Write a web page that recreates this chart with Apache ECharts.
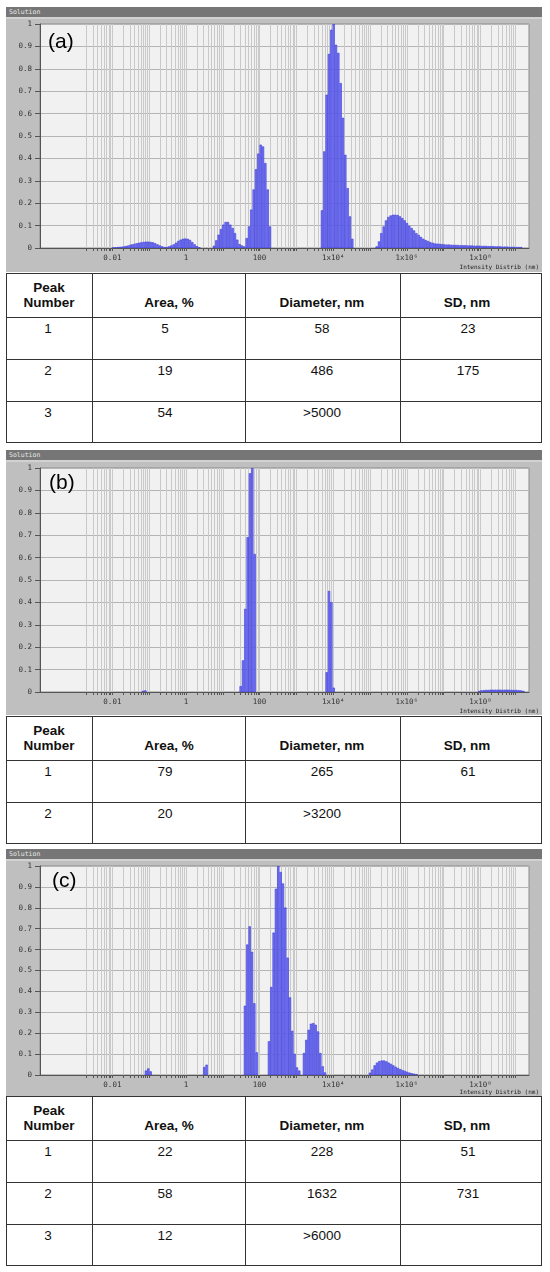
<!DOCTYPE html>
<html>
<head>
<meta charset="utf-8">
<title>Intensity distributions</title>
<script src="https://cdn.jsdelivr.net/npm/echarts@6.0.0/dist/echarts.min.js"></script>
<style>
html,body{margin:0;padding:0;background:#fff;width:550px;height:1272px;overflow:hidden;}
#wrap{position:relative;width:550px;height:1272px;}
.body{position:absolute;left:6px;width:536px;background:#bfbfbf;box-sizing:border-box;border-top:2px solid #d2d2d2;}
.tbar{position:absolute;left:6px;width:536px;height:10px;background:#767676;color:#e6e6e6;font-family:'DejaVu Sans Mono',monospace;font-size:6.5px;line-height:10px;padding-left:3px;box-sizing:border-box;}
.ln{position:absolute;background:#333;}
.tx{position:absolute;width:150px;text-align:center;font-family:'Liberation Sans',Arial,sans-serif;font-size:13.5px;line-height:15px;color:#111;white-space:nowrap;}
.tx.h{font-weight:bold;}
#chart{position:absolute;left:0;top:0;width:550px;height:1272px;}
</style>
</head>
<body>
<div id="wrap"></div>
<script>
// ---------- axis / tick data ----------
const X_MIN = 1.08e-4, X_MAX = 2.09e9;          // diameter range of the log axis (nm)
const BIN_STEP = 0.0633;                          // log10 width of one size bin
const X_LABEL_VALUES = [0.01, 1, 100, 1e4, 1e6, 1e8];
const X_LABEL_TEXT = ['0.01', '1', '100', '1x10\u2074', '1x10\u2076', '1x10\u2078'];
const GRID_DECADES = [-3, -2, -1, 0, 1, 2, 3, 4, 5, 6, 7, 8];
const GRID_MULTS = [1, 2, 3, 4, 5, 6, 7, 8, 9];
const GRID_FIRST = 2e-3, GRID_LAST = 9e8;
const Y_MAX = 1, Y_STEP = 0.1;

// ---------- panel (a): first-bin diameters and bin intensities ----------
const aStart = [0.01058, 0.2988, 5.767, 44.6, 4962, 1.521e5];
const aPeak1 = [0.002,0.002,0.003,0.004,0.005,0.007,0.009,0.012,0.015,0.017,0.020,0.022,0.024,0.026,0.027,0.027,0.026,0.024,0.020,0.015,0.010,0.006,0.003];
const aPeak2 = [0.003,0.006,0.010,0.015,0.022,0.030,0.036,0.040,0.041,0.040,0.035,0.025,0.015,0.007,0.002];
const aPeak3 = [0.009,0.033,0.058,0.083,0.103,0.115,0.115,0.103,0.088,0.065,0.036,0.016,0.010,0.006];
const aPeak4 = [0.043,0.095,0.170,0.260,0.350,0.420,0.460,0.452,0.378,0.260,0.095];
const aPeak5 = [0.167,0.430,0.683,0.865,0.973,1.000,0.906,0.870,0.735,0.580,0.415,0.266,0.140,0.040];
const aPeak6 = [0.006,0.028,0.065,0.095,0.122,0.137,0.144,0.147,0.147,0.146,0.140,0.132,0.122,0.110,0.098,0.088,0.077,0.065,0.057,0.048,0.040,0.034,0.030,0.025,0.022,0.019,0.018,
                0.017,0.016,0.015,0.014,0.014,0.013,0.013,0.012,0.012,0.011,0.011,0.011,0.010,0.010,0.010,0.009,0.009,0.009,0.008,0.008,0.008,0.007,0.007,0.007,0.006,0.006,0.006,0.005,0.005,0.005,0.004,0.004,0.004,0.003,0.003,0.003];

// ---------- panel (b) ----------
const bStart = [0.0678, 30.6, 6660, 9.16e7];
const bPeak1 = [0.004, 0.006];
const bPeak2 = [0.025,0.140,0.370,0.690,0.975,1.000,0.615];
const bPeak3 = [0.087,0.450,0.400,0.018];
const bPeak4 = [0.003,0.006,0.007,0.008,0.008,0.009,0.009,0.009,0.009,0.009,0.009,0.009,0.009,0.009,0.008,0.008,0.008,0.007,0.006,0.004];

// ---------- panel (c) ----------
const cStart = [0.0818, 3.14, 40.1, 180, 1609, 1.0e5];
const cPeak1 = [0.020,0.030,0.016];
const cPeak2 = [0.037,0.048];
const cPeak3 = [0.330,0.623,0.710,0.588,0.342,0.107];
const cPeak4 = [0.160,0.420,0.680,0.890,1.000,0.970,0.915,0.800,0.560,0.370,0.210,0.100,0.035,0.020];
const cPeak5 = [0.104,0.167,0.215,0.244,0.247,0.239,0.207,0.104,0.040,0.011];
const cPeak6 = [0.010,0.025,0.045,0.058,0.065,0.068,0.068,0.064,0.058,0.052,0.045,0.038,0.032,0.027,0.022,0.018,0.014,0.010,0.007,0.005,0.003];

// ---------- tables ----------
const PANEL_TAGS = ['(a)', '(b)', '(c)'];
const TABLE_HEAD = [['Peak', 'Number'], ['Area, %'], ['Diameter, nm'], ['SD, nm']];
const tableA = [['1','5','58','23'], ['2','19','486','175'], ['3','54','>5000','']];
const tableB = [['1','79','265','61'], ['2','20','>3200','']];
const tableC = [['1','22','228','51'], ['2','58','1632','731'], ['3','12','>6000','']];

// ---------- layout ----------
const PANELS = [
  {tbar: 7,   bodyTop: 17,  bodyBottom: 272,  gridTop: 24,  gridH: 224, tagX: 48, tagY: 42,  nameY: 267,  rows: [273, 317, 359, 401, 442]},
  {tbar: 450, bodyTop: 460, bodyBottom: 715,  gridTop: 468, gridH: 224, tagX: 49, tagY: 483, nameY: 711,  rows: [716, 760, 802, 843]},
  {tbar: 849, bodyTop: 859, bodyBottom: 1096, gridTop: 866, gridH: 209, tagX: 52, tagY: 881, nameY: 1092, rows: [1096, 1140, 1182, 1224, 1265]}
];
const COL_LINES = [92, 245, 400];
const HEAD_CX = [49, 169, 322, 467];
const CELL_CX = [48, 165, 322, 468];

const wrap = document.getElementById('wrap');
function box(cls, l, t, w, h, txt) {
  const d = document.createElement('div');
  d.className = cls;
  d.style.left = l + 'px'; d.style.top = t + 'px';
  if (w != null) d.style.width = w + 'px';
  if (h != null) d.style.height = h + 'px';
  if (txt != null) d.textContent = txt;
  wrap.appendChild(d);
  return d;
}

PANELS.forEach(p => {
  box('body', 6, p.bodyTop, 536, p.bodyBottom - p.bodyTop);
  box('tbar', 6, p.tbar, 536, 10, 'Solution');
});

function drawTable(bounds, rows) {
  const top = bounds[0], bottom = bounds[bounds.length - 1];
  const bg = box('', 6, top, 536, bottom - top + 1);
  bg.style.position = 'absolute'; bg.style.background = '#fff';
  box('ln', 6, top, 536, 1); box('ln', 6, bottom, 536, 1);
  box('ln', 6, top, 1, bottom - top + 1); box('ln', 541, top, 1, bottom - top + 1);
  COL_LINES.forEach(x => box('ln', x, top, 1, bottom - top + 1));
  bounds.slice(1, -1).forEach(y => box('ln', 6, y, 536, 1));
  TABLE_HEAD.forEach((lines, c) => {
    const base = lines.length === 2 ? top + 19 : top + 34;
    lines.forEach((s, k) => box('tx h', HEAD_CX[c] - 75, base + 15 * k - 12.2, null, null, s));
  });
  rows.forEach((r, ri) => {
    const rt = bounds[ri + 1];
    r.forEach((s, c) => { if (s) box('tx', CELL_CX[c] - 75, rt + 16 - 12.2, null, null, s); });
  });
}
drawTable(PANELS[0].rows, tableA);
drawTable(PANELS[1].rows, tableB);
drawTable(PANELS[2].rows, tableC);

const chartDiv = document.createElement('div');
chartDiv.id = 'chart';
wrap.appendChild(chartDiv);

// ---------- chart ----------
const gridTicks = [];
GRID_DECADES.forEach(e => GRID_MULTS.forEach(m => {
  const v = +(m * Math.pow(10, e)).toPrecision(6);
  if (v >= GRID_FIRST * 0.999 && v <= GRID_LAST * 1.001) gridTicks.push(v);
}));

function binData(starts, runs) {
  const out = [];
  runs.forEach((vals, r) => vals.forEach((v, i) => out.push([starts[r] * Math.pow(10, i * BIN_STEP), v])));
  return out;
}
const SERIES_DATA = [
  binData(aStart, [aPeak1, aPeak2, aPeak3, aPeak4, aPeak5, aPeak6]),
  binData(bStart, [bPeak1, bPeak2, bPeak3, bPeak4]),
  binData(cStart, [cPeak1, cPeak2, cPeak3, cPeak4, cPeak5, cPeak6])
];

function xLabel(v) {
  const e = Math.round(Math.log10(v));
  const idx = X_LABEL_VALUES.findIndex(L => Math.round(Math.log10(L)) === e);
  return idx >= 0 ? X_LABEL_TEXT[idx] : '';
}

function renderBar(params, api) {
  const x = api.value(0), v = api.value(1);
  const p1 = api.coord([x, v]), p0 = api.coord([x, 0]);
  const w = 1.7;
  return {
    type: 'rect',
    shape: {x: p1[0] - w / 2, y: p1[1], width: w, height: p0[1] - p1[1]},
    style: {fill: '#7272f7', stroke: '#3a3ad6', lineWidth: 0.6}
  };
}

const MONO = '"DejaVu Sans Mono", "Liberation Mono", monospace';
const option = {
  backgroundColor: 'transparent',
  animation: false,
  grid: PANELS.map(p => ({left: 40, top: p.gridTop, width: 489, height: p.gridH, show: true,
    backgroundColor: '#f1f1f1', borderColor: '#8a8a8a', borderWidth: 1, containLabel: false, outerBoundsMode: 'none'})),
  xAxis: PANELS.map((p, i) => ({
    type: 'log', logBase: 10, gridIndex: i, min: X_MIN, max: X_MAX,
    axisLine: {show: true, onZero: false, lineStyle: {color: '#555', width: 1}},
    axisTick: {show: true, customValues: gridTicks, length: 3, lineStyle: {color: '#555'}},
    axisLabel: {show: true, customValues: X_LABEL_VALUES, formatter: xLabel, fontFamily: MONO, fontSize: 7.5, color: '#333', margin: 6},
    splitLine: {show: true, lineStyle: {color: '#c9c9c9', width: 1}},
    minorTick: {show: false}, minorSplitLine: {show: false}
  })),
  yAxis: PANELS.map((p, i) => ({
    type: 'value', gridIndex: i, min: 0, max: Y_MAX, interval: Y_STEP,
    axisLine: {show: true, lineStyle: {color: '#555', width: 1}},
    axisTick: {show: true, length: 5, lineStyle: {color: '#555'}},
    axisLabel: {fontFamily: MONO, fontSize: 7.5, color: '#333', margin: 8},
    splitLine: {show: true, lineStyle: {color: '#b5b5b5', width: 1}}
  })),
  series: SERIES_DATA.map((d, i) => ({
    type: 'custom', xAxisIndex: i, yAxisIndex: i, data: d, renderItem: renderBar,
    clip: true, silent: true, encode: {x: 0, y: 1}, z: 5
  })),
  graphic: PANELS.flatMap((p, i) => [
    {type: 'text', x: p.tagX, y: p.tagY, z: 20, silent: true,
     style: {text: PANEL_TAGS[i], font: '21px "Liberation Sans", Arial, sans-serif', fill: '#000', textAlign: 'left', textVerticalAlign: 'middle'}},
    {type: 'text', x: 539, y: p.nameY, z: 20, silent: true,
     style: {text: 'Intensity Distrib (nm)', font: '6px ' + MONO, fill: '#222', textAlign: 'right', textVerticalAlign: 'middle'}}
  ])
};
const chart = echarts.init(chartDiv, null, {renderer: 'canvas', width: 550, height: 1272});
chart.setOption(option);
</script>
</body>
</html>
